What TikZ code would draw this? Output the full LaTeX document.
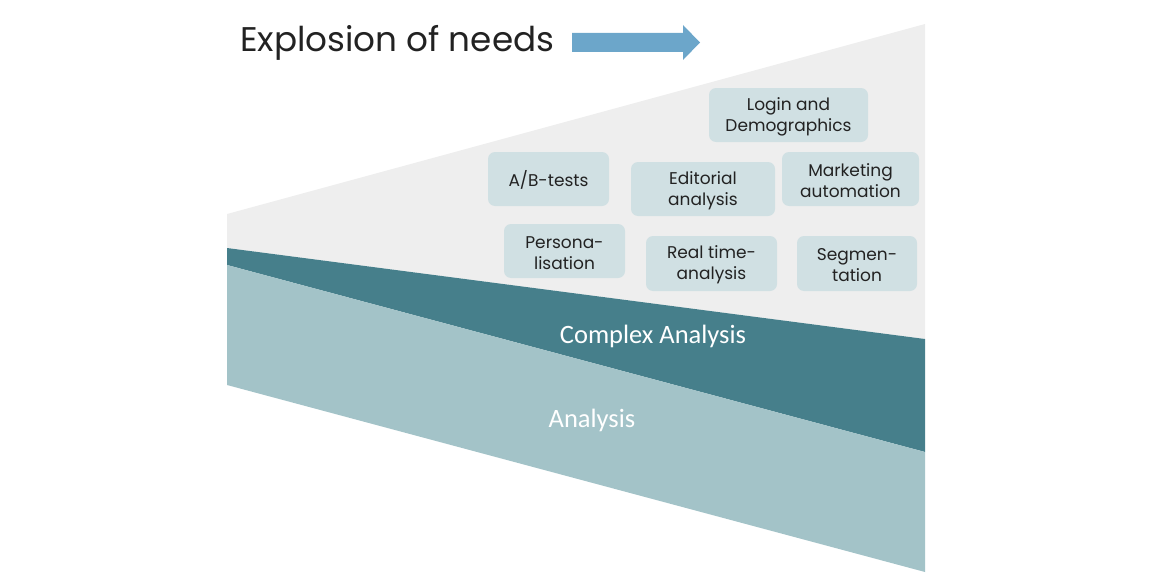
\documentclass[tikz,border=0pt]{standalone}
\usepackage{fontspec}
\setmainfont{Poppins}
\newfontfamily\labfont{Carlito}
\definecolor{bggrey}{HTML}{EEEEEE}
\definecolor{darkteal}{HTML}{467F8B}
\definecolor{lightteal}{HTML}{A3C3C8}
\definecolor{boxfill}{HTML}{D0E0E3}
\definecolor{arrowblue}{HTML}{6CA6CA}
\definecolor{txt}{HTML}{222222}
\tikzset{
  needbox/.style={fill=boxfill, rounded corners=7pt, text=txt, align=center,
    font=\fontsize{17}{21}\selectfont, inner sep=0pt},
  bandlabel/.style={text=white, font=\labfont\fontsize{26.5}{30}\selectfont, inner sep=0pt}
}
\begin{document}
\begin{tikzpicture}[x=1pt,y=-1pt]
\useasboundingbox (0,0) rectangle (1154,586);
% bands
\fill[bggrey] (227,214) -- (925,24) -- (925,339) -- (227,248) -- cycle;
\fill[darkteal] (227,248) -- (925,339) -- (925,452) -- (227,265) -- cycle;
\fill[lightteal] (227,265) -- (925,452) -- (925,572) -- (227,385) -- cycle;
% title
\node[anchor=base west, inner sep=0pt, text=txt, font=\fontsize{34.2}{40}\selectfont] (title) at (240,52) {Explosion of needs};
% arrow
\fill[arrowblue] (572,33) -- (683,33) -- (683,25) -- (700,42.5) -- (683,60) -- (683,52) -- (572,52) -- cycle;
% boxes
\path[needbox] (709,88) rectangle (868,142);
\node[needbox] (login) at (788.5,117) {Login and\\Demographics};
\path[needbox] (488,152) rectangle (609,206);
\node[needbox] (ab) at (548.5,180) {A/B-tests};
\path[needbox] (631,162) rectangle (775,216);
\node[needbox] (edit) at (703,191) {Editorial\\analysis};
\path[needbox] (782,152) rectangle (919,206);
\node[needbox] (mark) at (850.5,181) {Marketing\\automation};
\path[needbox] (504,224) rectangle (625,278);
\node[needbox] (pers) at (564.5,253) {Persona-\\lisation};
\path[needbox] (646,236) rectangle (777,291);
\node[needbox] (real) at (711.5,265) {Real time-\\analysis};
\path[needbox] (797,236) rectangle (917,291);
\node[needbox] (seg) at (857,265) {Segmen-\\tation};
% band labels
\node[bandlabel] (complex) at (653,336.5) {Complex Analysis};
\node[bandlabel] (analysis) at (592,420.5) {Analysis};
\end{tikzpicture}
\end{document}
